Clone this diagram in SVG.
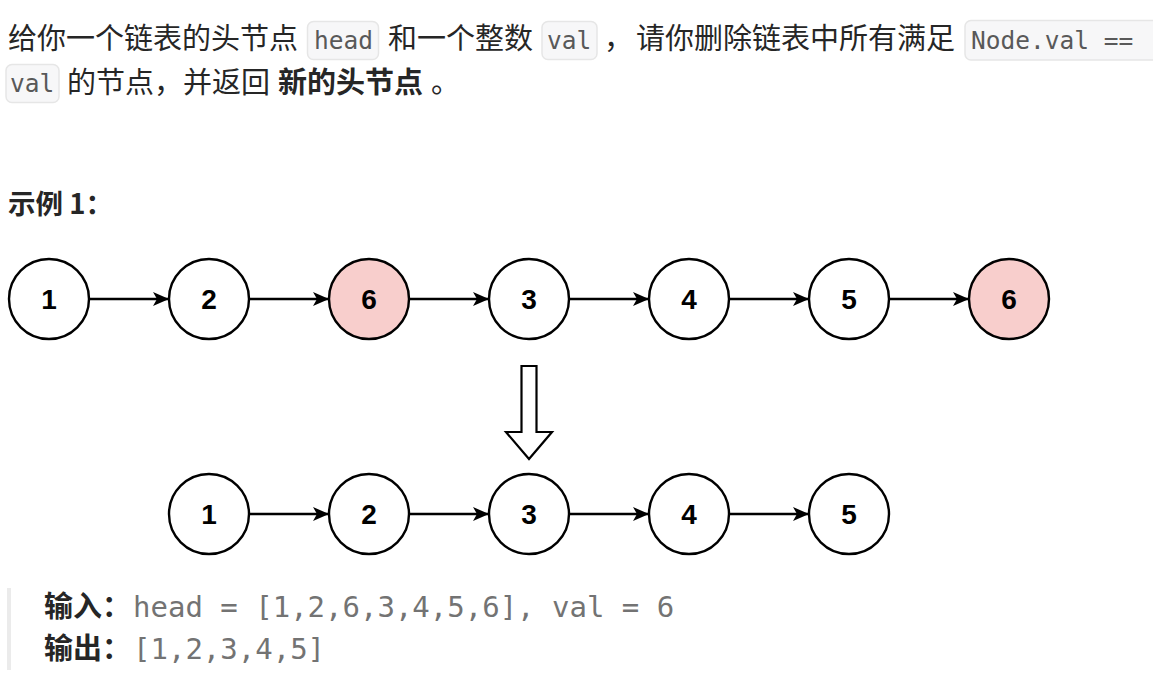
<svg xmlns="http://www.w3.org/2000/svg" width="1175" height="686" viewBox="0 0 1175 686">
<style>
.cjk{font-family:"Noto Sans CJK SC","Noto Sans",sans-serif;font-size:29px;fill:#262626}
.b{font-weight:bold}
.code{font-family:"DejaVu Sans Mono","Liberation Mono",monospace;font-size:24.5px;fill:#595959}
.pre{font-family:"DejaVu Sans Mono","Liberation Mono",monospace;font-size:29px;fill:#737373}
.cbox{fill:#f7f7f8;stroke:#e6e6e6;stroke-width:1.5}
.node circle{stroke:#000;stroke-width:2.4;fill:#fff}
.node.del circle{fill:#f8cecc}
.node text{font-family:"Liberation Sans",Arial,sans-serif;font-weight:bold;font-size:28px;fill:#000;text-anchor:middle}
.edge{stroke:#000;stroke-width:2.4;fill:none;marker-end:url(#ah)}
</style>
<defs>
<marker id="ah" markerUnits="userSpaceOnUse" markerWidth="18" markerHeight="16" refX="16" refY="8" orient="auto">
<path d="M0,1 L16,8 L0,15 L4,8 Z" fill="#000"/>
</marker>
</defs>
<rect width="1175" height="686" fill="#fff"/>

<g id="description">
<rect class="cbox" x="307.5" y="21.5" width="71" height="38" rx="6"/>
<rect class="cbox" x="542" y="21.5" width="55" height="38" rx="6"/>
<path d="M1153,20.5 H971 a6,6 0 0 0 -6,6 V54 a6,6 0 0 0 6,6 H1153 Z" fill="#f7f7f8"/>
<path d="M1153,20.5 H971 a6,6 0 0 0 -6,6 V54 a6,6 0 0 0 6,6 H1153" fill="none" stroke="#e6e6e6" stroke-width="1.5"/>
<rect class="cbox" x="6" y="64.5" width="53" height="38" rx="6"/>
<text class="cjk" x="8" y="49">给你一个链表的头节点</text>
<text class="code" x="314" y="49">head</text>
<text class="cjk" x="388" y="49">和一个整数</text>
<text class="code" x="547" y="49">val</text>
<text class="cjk" x="604" y="49">，</text>
<text class="cjk" x="636" y="49">请你删除链表中所有满足</text>
<text class="code" x="971" y="49">Node.val ==</text>
<text class="code" x="10" y="92">val</text>
<text class="cjk" x="67" y="93">的节点，并返回</text>
<text class="cjk b" x="278" y="93">新的头节点</text>
<text class="cjk" x="431" y="93">。</text>
<text class="cjk b" x="8" y="214" style="font-size:27.5px">示例 1：</text>
</g>

<g id="connectors">
<line class="edge" x1="89" y1="299" x2="169" y2="299"/>
<line class="edge" x1="249" y1="299" x2="329" y2="299"/>
<line class="edge" x1="409" y1="299" x2="489" y2="299"/>
<line class="edge" x1="569" y1="299" x2="649" y2="299"/>
<line class="edge" x1="729" y1="299" x2="809" y2="299"/>
<line class="edge" x1="889" y1="299" x2="969" y2="299"/>
<line class="edge" x1="249" y1="514" x2="329" y2="514"/>
<line class="edge" x1="409" y1="514" x2="489" y2="514"/>
<line class="edge" x1="569" y1="514" x2="649" y2="514"/>
<line class="edge" x1="729" y1="514" x2="809" y2="514"/>
</g>

<g id="transform-arrow">
<path d="M521.5,366 H536.5 V432 H552 L529,459 L506,432 H521.5 Z" fill="#fff" stroke="#000" stroke-width="2.2" stroke-linejoin="miter"/>
</g>

<g id="n1" class="node"><circle cx="49" cy="299" r="40"/><text x="49" y="309">1</text></g>
<g id="n2" class="node"><circle cx="209" cy="299" r="40"/><text x="209" y="309">2</text></g>
<g id="n3" class="node del"><circle cx="369" cy="299" r="40"/><text x="369" y="309">6</text></g>
<g id="n4" class="node"><circle cx="529" cy="299" r="40"/><text x="529" y="309">3</text></g>
<g id="n5" class="node"><circle cx="689" cy="299" r="40"/><text x="689" y="309">4</text></g>
<g id="n6" class="node"><circle cx="849" cy="299" r="40"/><text x="849" y="309">5</text></g>
<g id="n7" class="node del"><circle cx="1009" cy="299" r="40"/><text x="1009" y="309">6</text></g>

<g id="r1" class="node"><circle cx="209" cy="514" r="40"/><text x="209" y="524">1</text></g>
<g id="r2" class="node"><circle cx="369" cy="514" r="40"/><text x="369" y="524">2</text></g>
<g id="r3" class="node"><circle cx="529" cy="514" r="40"/><text x="529" y="524">3</text></g>
<g id="r4" class="node"><circle cx="689" cy="514" r="40"/><text x="689" y="524">4</text></g>
<g id="r5" class="node"><circle cx="849" cy="514" r="40"/><text x="849" y="524">5</text></g>

<g id="example">
<rect x="7" y="588" width="4" height="82" fill="#ebebeb"/>
<text class="cjk b" x="44" y="617">输入：</text>
<text class="pre" x="133" y="617">head = [1,2,6,3,4,5,6], val = 6</text>
<text class="cjk b" x="44" y="659">输出：</text>
<text class="pre" x="133" y="659">[1,2,3,4,5]</text>
</g>
</svg>
